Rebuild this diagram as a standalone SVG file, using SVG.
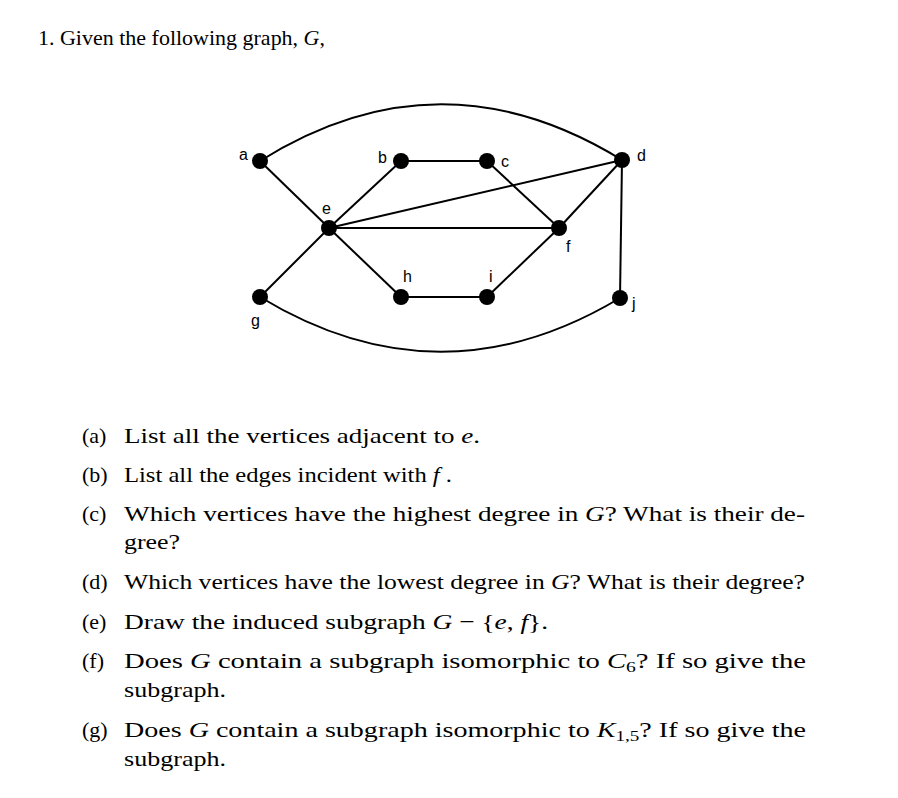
<svg xmlns="http://www.w3.org/2000/svg" width="898" height="798" viewBox="0 0 898 798">
<style>
.t{font-family:"Liberation Serif",serif;font-size:22px;fill:#000}
.l{font-family:"Liberation Sans",sans-serif;font-size:16px;fill:#000}
.e{stroke:#000;stroke-width:2;fill:none}
.v{fill:#000}
</style>
<rect width="898" height="798" fill="#fff"/>
<text class="t" x="38" y="45" textLength="287" lengthAdjust="spacingAndGlyphs">1.  Given the following graph, <tspan font-style="italic">G</tspan>,</text>
<g id="edges">
<path class="e" d="M260,161 Q440,48 622,160"/>
<path class="e" d="M260,297 Q440,406 620,298"/>
<line class="e" x1="260" y1="161" x2="329" y2="228"/>
<line class="e" x1="401" y1="161" x2="329" y2="228"/>
<line class="e" x1="260" y1="297" x2="329" y2="228"/>
<line class="e" x1="401" y1="297" x2="329" y2="228"/>
<line class="e" x1="401" y1="161" x2="487" y2="161"/>
<line class="e" x1="401" y1="297" x2="487" y2="297"/>
<line class="e" x1="487" y1="161" x2="559" y2="228"/>
<line class="e" x1="487" y1="297" x2="559" y2="228"/>
<line class="e" x1="329" y1="228" x2="559" y2="228"/>
<line class="e" x1="329" y1="228" x2="622" y2="160"/>
<line class="e" x1="559" y1="228" x2="622" y2="160"/>
<line class="e" x1="622" y1="160" x2="620" y2="298"/>
</g>
<g id="a"><circle class="v" cx="260" cy="161" r="8"/><text class="l" x="239" y="160">a</text></g>
<g id="b"><circle class="v" cx="401" cy="161" r="8"/><text class="l" x="378" y="163">b</text></g>
<g id="c"><circle class="v" cx="487" cy="161" r="8"/><text class="l" x="501" y="167">c</text></g>
<g id="d"><circle class="v" cx="622" cy="160" r="8"/><text class="l" x="637" y="161">d</text></g>
<g id="e"><circle class="v" cx="329" cy="228" r="8"/><text class="l" x="322" y="214">e</text></g>
<g id="f"><circle class="v" cx="559" cy="228" r="8"/><text class="l" x="566" y="252">f</text></g>
<g id="g"><circle class="v" cx="260" cy="297" r="8"/><text class="l" x="251" y="326">g</text></g>
<g id="h"><circle class="v" cx="401" cy="297" r="8"/><text class="l" x="403" y="282">h</text></g>
<g id="i"><circle class="v" cx="487" cy="297" r="8"/><text class="l" x="489" y="282">i</text></g>
<g id="j"><circle class="v" cx="620" cy="298" r="8"/><text class="l" x="632" y="309">j</text></g>
<g class="t">
<text x="82" y="443">(a)</text><text x="124" y="443" textLength="356" lengthAdjust="spacingAndGlyphs">List all the vertices adjacent to <tspan font-style="italic">e</tspan>.</text>
<text x="82" y="482">(b)</text><text x="124" y="482" textLength="328" lengthAdjust="spacingAndGlyphs">List all the edges incident with <tspan font-style="italic">f</tspan> .</text>
<text x="82" y="521">(c)</text><text x="124" y="521" textLength="681" lengthAdjust="spacingAndGlyphs">Which vertices have the highest degree in <tspan font-style="italic">G</tspan>?  What is their de-</text>
<text x="124" y="549" textLength="56" lengthAdjust="spacingAndGlyphs">gree?</text>
<text x="82" y="589">(d)</text><text x="124" y="589" textLength="681" lengthAdjust="spacingAndGlyphs">Which vertices have the lowest degree in <tspan font-style="italic">G</tspan>? What is their degree?</text>
<text x="82" y="629">(e)</text><text x="124" y="629" textLength="424" lengthAdjust="spacingAndGlyphs">Draw the induced subgraph <tspan font-style="italic">G</tspan> − {<tspan font-style="italic">e</tspan>, <tspan font-style="italic">f</tspan>}.</text>
<text x="82" y="668">(f)</text><text x="124" y="668" textLength="682" lengthAdjust="spacingAndGlyphs">Does <tspan font-style="italic">G</tspan> contain a subgraph isomorphic to <tspan font-style="italic">C</tspan><tspan font-size="15" dy="4">6</tspan><tspan dy="-4">?  If so give the</tspan></text>
<text x="124" y="697" textLength="102" lengthAdjust="spacingAndGlyphs">subgraph.</text>
<text x="82" y="737">(g)</text><text x="124" y="737" textLength="682" lengthAdjust="spacingAndGlyphs">Does <tspan font-style="italic">G</tspan> contain a subgraph isomorphic to <tspan font-style="italic">K</tspan><tspan font-size="15" dy="4">1,5</tspan><tspan dy="-4">?  If so give the</tspan></text>
<text x="124" y="766" textLength="102" lengthAdjust="spacingAndGlyphs">subgraph.</text>
</g>
</svg>
